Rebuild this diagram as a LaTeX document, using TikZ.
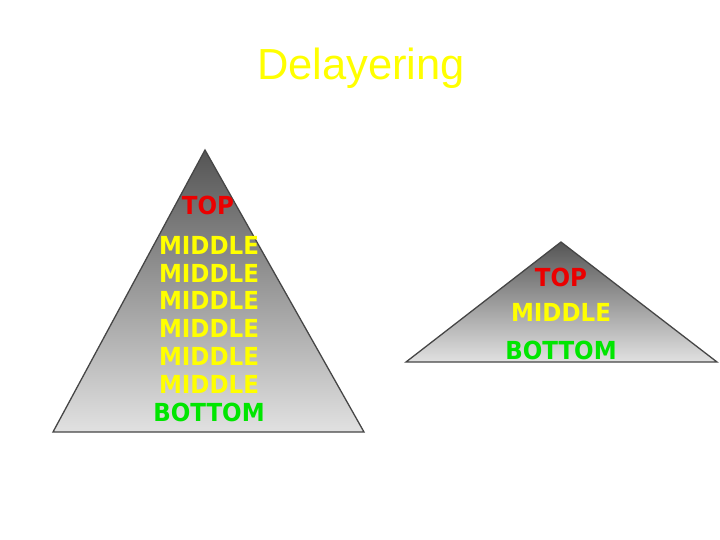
\documentclass[tikz,border=0pt]{standalone}
\usepackage{fontspec}
\setmainfont{Liberation Sans}
\newfontfamily\lblfont{DejaVu Sans}[BoldFont={DejaVu Sans Bold}]
\definecolor{titleyellow}{RGB}{255,255,0}
\definecolor{lblred}{RGB}{235,0,0}
\definecolor{lblyellow}{RGB}{255,255,0}
\definecolor{lblgreen}{RGB}{0,230,0}
\definecolor{apexgray}{RGB}{85,85,85}
\definecolor{basegray}{RGB}{225,225,225}
\definecolor{edgegray}{RGB}{70,70,70}
\tikzset{
  pyramid/.style={draw=edgegray, line width=1.3pt, line join=miter, top color=apexgray, bottom color=basegray},
  lbl/.style={font=\lblfont\bfseries\fontsize{23}{26}\selectfont, inner sep=0pt, anchor=center, yscale=1.08},
  toplbl/.style={lbl, text=lblred},
  midlbl/.style={lbl, text=lblyellow},
  botlbl/.style={lbl, text=lblgreen},
}
\begin{document}
\begin{tikzpicture}[x=1pt,y=-1pt]
\useasboundingbox (0,0) rectangle (720,540);
\node[font=\fontsize{43.5}{48}\selectfont, text=titleyellow, inner sep=0pt] (title) at (361,68) {Delayering};
% left pyramid
\path[pyramid] (205,150) -- (364,432) -- (53,432) -- cycle;
\node[toplbl] (lt) at (208,205) {TOP};
\node[midlbl] (lm1) at (209,245) {MIDDLE};
\node[midlbl] (lm2) at (209,273) {MIDDLE};
\node[midlbl] (lm3) at (209,300) {MIDDLE};
\node[midlbl] (lm4) at (209,328) {MIDDLE};
\node[midlbl] (lm5) at (209,356) {MIDDLE};
\node[midlbl] (lm6) at (209,384) {MIDDLE};
\node[botlbl] (lb) at (209,412) {BOTTOM};
% right pyramid
\path[pyramid] (561,242) -- (717,362) -- (406,362) -- cycle;
\node[toplbl] (rt) at (561,277) {TOP};
\node[midlbl] (rm) at (561,312) {MIDDLE};
\node[botlbl] (rb) at (561,350) {BOTTOM};
\end{tikzpicture}
\end{document}
